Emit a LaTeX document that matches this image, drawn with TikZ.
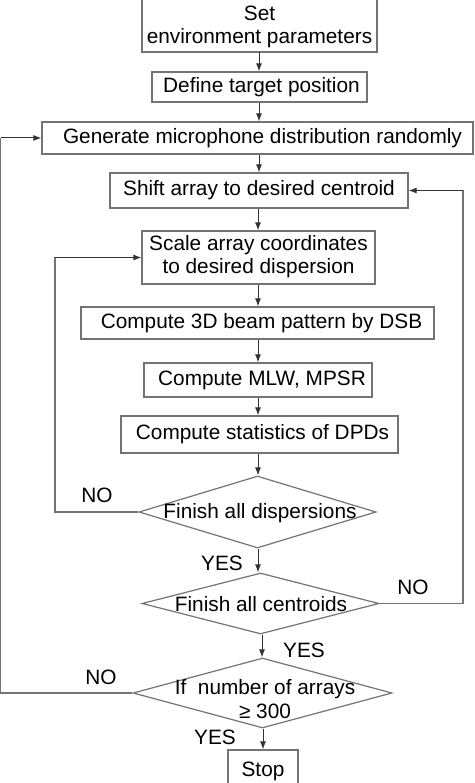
\documentclass[tikz,border=0pt]{standalone}
\usepackage{fontspec}
\setmainfont{Liberation Sans}
\usetikzlibrary{shapes.geometric,arrows.meta}
\begin{document}
\begin{tikzpicture}[x=1pt,y=-1pt,
  every node/.style={font=\fontsize{20.8}{23.5}\selectfont, text=black},
  box/.style={draw=black!55, line width=1.2pt, rectangle, inner sep=0pt, align=center},
  dia/.style={draw=black!55, line width=1.2pt, diamond, inner sep=0pt, shape aspect=3},
  lab/.style={inner sep=0pt},
  arr/.style={draw=black!80, line width=1pt, -{Latex[length=8pt,width=6pt]}},
  ln/.style={draw=black!55, line width=1.2pt}]
\useasboundingbox (0,0) rectangle (474,783);
\node[box, minimum width=235, minimum height=60,
  label={[lab, align=center, yshift=-5pt]center:{Set\\environment parameters}}] (b1) at (259.5,22) {};
\node[box, minimum width=215, minimum height=30] (b2) at (259.5,87) {\hspace*{4pt}Define target position};
\node[box, minimum width=431, minimum height=32] (b3) at (257.5,138) {\hspace*{10pt}Generate microphone distribution randomly};
\node[box, minimum width=298, minimum height=35] (b4) at (259,190.5) {Shift array to desired centroid};
\node[box, minimum width=233, minimum height=53] (b5) at (258.5,257.5) {\begin{tabular}{@{}c@{}}Scale array coordinates\\[-1pt]to desired dispersion\end{tabular}};
\node[box, minimum width=353, minimum height=32] (b6) at (257.5,323) {\hspace*{8pt}Compute 3D beam pattern by DSB};
\node[box, minimum width=228, minimum height=34] (b7) at (258,380) {\hspace*{8pt}Compute MLW, MPSR};
\node[box, minimum width=277, minimum height=37] (b8) at (259.5,434.5) {\hspace*{6pt}Compute statistics of DPDs};
\node[dia, minimum width=237, minimum height=72] (d1) at (257.5,512) {};
\node[lab] (t1) at (260,513) {Finish all dispersions};
\node[dia, minimum width=237, minimum height=61] (d2) at (260.5,603.5) {};
\node[lab] (t2) at (261,604) {Finish all centroids};
\node[dia, minimum width=259, minimum height=70] (d3) at (262.5,693) {};
\node[lab] (t3) at (265,702) {\begin{tabular}{@{}c@{}}If\ \ number of arrays\\≥ 300\end{tabular}};
\node[box, minimum width=70, minimum height=42] (st) at (263,771) {Stop};
% main flow
\draw[arr] (259,52) -- (b2.north -| 259,0);
\draw[arr] (b2.south -| 259,0) -- (b3.north -| 259,0);
\draw[arr] (b3.south -| 259,0) -- (b4.north -| 259,0);
\draw[arr] (b4.south -| 258,0) -- (b5.north -| 258,0);
\draw[arr] (b5.south -| 258,0) -- (b6.north -| 258,0);
\draw[arr] (b6.south -| 258,0) -- (b7.north -| 258,0);
\draw[arr] (b7.south -| 258,0) -- (b8.north -| 258,0);
\draw[arr] (b8.south -| 258,0) -- (d1.north -| 258,0);
\draw[arr] (d1.south -| 258,0) -- (d2.north -| 258,0);
\draw[arr] (d2.south -| 262,0) -- (d3.north -| 262,0);
\draw[arr] (d3.south -| 263,0) -- (st.north);
% loops
\coordinate (c1) at (55,512);
\coordinate (c2) at (463,603.5);
\coordinate (c3) at (0.6,693);
\draw[ln] (d1.west) -- (c1) -- (c1 |- b5.west);
\draw[arr] (c1 |- b5.west) -- (b5.west);
\draw[ln] (d2.east) -- (c2) -- (c2 |- b4.east);
\draw[arr] (c2 |- b4.east) -- (b4.east);
\draw[ln] (d3.west) -- (c3) -- (c3 |- b3.west);
\draw[arr] (c3 |- b3.west) -- (b3.west);
% labels
\node[lab] (n1) at (97,495) {NO};
\node[lab] (y1) at (222,563) {YES};
\node[lab] (n2) at (413,587) {NO};
\node[lab] (y2) at (304,650) {YES};
\node[lab] (n3) at (101,677) {NO};
\node[lab] (y3) at (215,737) {YES};
\end{tikzpicture}
\end{document}
